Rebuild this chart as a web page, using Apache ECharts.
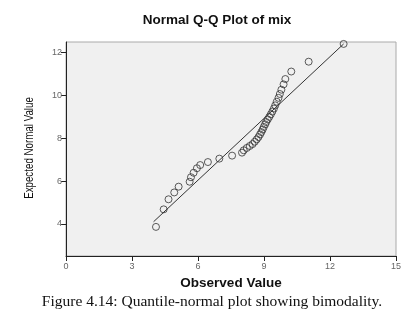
<!DOCTYPE html>
<html>
<head>
<meta charset="utf-8">
<script src="https://cdn.jsdelivr.net/npm/echarts@6/dist/echarts.min.js"></script>
<style>
  html, body { margin: 0; padding: 0; background: #fff; }
  #chart { width: 416px; height: 322px; }
</style>
</head>
<body>
<div id="chart"></div>
<script>
// Observed values of "mix" (sorted) and their expected normal values
const observed = [4.09, 4.44, 4.66, 4.92, 5.12, 5.62, 5.68, 5.80, 5.95, 6.10,
  6.45, 6.97, 7.55, 8.00, 8.08, 8.22, 8.35, 8.48, 8.58, 8.67,
  8.75, 8.82, 8.88, 8.94, 8.99, 9.05, 9.10, 9.17, 9.24, 9.31,
  9.38, 9.45, 9.51, 9.58, 9.66, 9.72, 9.79, 9.89, 9.97, 10.24,
  11.03, 12.62];
const expected = [3.86, 4.68, 5.15, 5.47, 5.74, 5.97, 6.18, 6.39, 6.60, 6.75,
  6.89, 7.05, 7.19, 7.33, 7.44, 7.55, 7.64, 7.73, 7.84, 7.95,
  8.06, 8.18, 8.29, 8.41, 8.53, 8.65, 8.76, 8.88, 9.00, 9.12,
  9.25, 9.39, 9.54, 9.71, 9.89, 10.07, 10.27, 10.52, 10.77, 11.12,
  11.58, 12.41];
// Reference line endpoints
const refLineX = [3.98, 12.62];
const refLineY = [4.10, 12.41];
// Tick labels
const xTicks = [0, 3, 6, 9, 12, 15];
const yTicks = [4, 6, 8, 10, 12];

const points = observed.map((x, i) => [x, expected[i]]);
const linePts = refLineX.map((x, i) => [x, refLineY[i]]);

const chart = echarts.init(document.getElementById('chart'), null, { renderer: 'canvas' });
const labelStyle = { color: '#666', fontSize: 9, fontFamily: 'Liberation Sans, Arial' };
const boldText = { fontFamily: 'Liberation Sans, Arial', fontWeight: 'bold', fontSize: 13.5, color: '#111' };

chart.setOption({
  animation: false,
  backgroundColor: '#fff',
  title: {
    text: 'Normal Q-Q Plot of mix',
    left: 212, top: 8, textAlign: 'center',
    textStyle: boldText
  },
  grid: {
    left: 66, top: 42, width: 330, height: 214,
    show: true, backgroundColor: '#f0f0f0', borderColor: '#aaa', borderWidth: 1
  },
  xAxis: {
    type: 'value', min: 0, max: 15, interval: 3,
    name: 'Observed Value', nameLocation: 'middle', nameGap: 18,
    nameTextStyle: boldText,
    axisLine: { show: true, lineStyle: { color: '#222', width: 1 } },
    axisTick: { show: true, length: 5, lineStyle: { color: '#222' } },
    axisLabel: Object.assign({}, labelStyle, { margin: 6, customValues: xTicks }),
    splitLine: { show: false }
  },
  yAxis: {
    type: 'value', min: 2.5, max: 12.5,
    axisLine: { show: true, lineStyle: { color: '#222', width: 1 } },
    axisTick: { show: true, length: 5, lineStyle: { color: '#222' }, customValues: yTicks },
    axisLabel: Object.assign({}, labelStyle, { customValues: yTicks, margin: 4 }),
    splitLine: { show: false }
  },
  graphic: [
    {
      // condensed vertical axis title
      type: 'text', x: 30, y: 148, rotation: Math.PI / 2, scaleX: 0.78,
      style: {
        text: 'Expected Normal Value', align: 'center', verticalAlign: 'middle',
        font: '12.5px "Liberation Sans", Arial, sans-serif', fill: '#111'
      }
    },
    {
      type: 'text', x: 212, y: 302,
      style: {
        text: 'Figure 4.14: Quantile-normal plot showing bimodality.',
        align: 'center', verticalAlign: 'middle',
        font: '15.5px "Liberation Serif", "DejaVu Serif", serif', fill: '#111'
      }
    }
  ],
  series: [
    {
      type: 'line', data: linePts, symbol: 'none', silent: true,
      lineStyle: { color: '#333', width: 1 }, z: 2
    },
    {
      type: 'scatter', data: points, symbol: 'circle', symbolSize: 7,
      itemStyle: { color: 'rgba(0,0,0,0)', borderColor: '#333', borderWidth: 1 }, z: 3
    }
  ]
});
</script>
</body>
</html>
